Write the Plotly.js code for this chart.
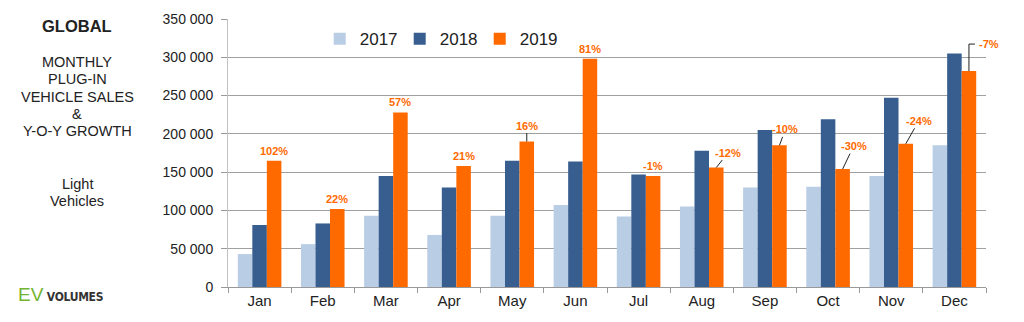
<!DOCTYPE html>
<html>
<head>
<meta charset="utf-8">
<script src="https://cdn.plot.ly/plotly-3.0.1.min.js"></script>
<style>html,body{margin:0;padding:0;background:#fff;}#chart{width:1024px;height:322px;}</style>
</head>
<body>
<div id="chart"></div>
<script>
const months = ['Jan','Feb','Mar','Apr','May','Jun','Jul','Aug','Sep','Oct','Nov','Dec'];
const sales2017 = [43000, 56000, 93000, 68000, 93000, 107000, 92000, 105000, 130000, 131000, 145000, 185000];
const sales2018 = [81000, 83000, 145000, 130000, 165000, 164000, 147000, 178000, 205000, 219000, 247000, 305000];
const sales2019 = [165000, 102000, 228000, 158000, 190000, 298000, 145000, 156000, 185000, 154000, 187000, 282000];
const growthLabels = ['102%','22%','57%','21%','16%','81%','-1%','-12%','-10%','-30%','-24%','-7%'];
const yTicks = [0, 50000, 100000, 150000, 200000, 250000, 300000, 350000];
const sideLines = ['MONTHLY','PLUG-IN','VEHICLE SALES','&amp;','Y-O-Y GROWTH'];
const subLines = ['Light','Vehicles'];

const bargap = 0.31;
const barOffset = (1 - bargap) / 3;
const orange = '#ff6a00';

// leader offsets (pixels) for labels that have a connector line; null = plain label
const leader = [null, null, null, null, [0,-16], null, null, [12,-15], [6,-16], [11,-23], [13,-23], 'elbow'];

const traces = [
  {type:'bar', name:'2017', x:months.map((m,i)=>i), y:sales2017, marker:{color:'#b9cde5'}},
  {type:'bar', name:'2018', x:months.map((m,i)=>i), y:sales2018, marker:{color:'#375e8f'}},
  {type:'bar', name:'2019', x:months.map((m,i)=>i), y:sales2019, marker:{color:orange}}
];

const annotations = [];
const shapes = [];
months.forEach((m, i) => {
  const base = {x: i + barOffset, y: sales2019[i], xref:'x', yref:'y', text: growthLabels[i],
    font:{family:'Liberation Sans, Arial, sans-serif', size:11, color:orange, weight:'bold'}};
  const L = leader[i];
  if (L === null) {
    annotations.push(Object.assign(base, {showarrow:false, yanchor:'bottom', yshift:2}));
  } else if (L === 'elbow') {
    annotations.push(Object.assign(base, {showarrow:false, xanchor:'left', yanchor:'middle', xshift:8, yshift:27}));
    shapes.push({type:'path', xref:'x', yref:'y', xsizemode:'pixel', ysizemode:'pixel',
      xanchor: i + barOffset, yanchor: sales2019[i], path:'M0,0 L0,27 L6,27',
      line:{color:'#222', width:1}});
  } else {
    annotations.push(Object.assign(base, {showarrow:true, arrowhead:0, arrowwidth:1, arrowcolor:'#222',
      ax:L[0], ay:L[1], standoff:0}));
  }
});

// left-side caption, positioned in paper coordinates
const plotTop = 19, plotH = 268, plotL = 228, plotW = 758;
const px2x = p => (p - plotL) / plotW;
const py2y = p => (plotTop + plotH - p) / plotH;
const textFont = {family:'Liberation Sans, Arial, sans-serif', color:'#222'};
annotations.push({xref:'paper', yref:'paper', x:px2x(77), y:py2y(26), text:'<b>GLOBAL</b>', showarrow:false,
   font:Object.assign({size:16.5}, textFont), xanchor:'center', yanchor:'middle'});
sideLines.forEach((t, k) => annotations.push({xref:'paper', yref:'paper', x:px2x(77), y:py2y(62 + k*17.3), text:t,
   showarrow:false, font:Object.assign({size:14.5}, textFont), xanchor:'center', yanchor:'middle'}));
subLines.forEach((t, k) => annotations.push({xref:'paper', yref:'paper', x:px2x(77), y:py2y(184 + k*17.3), text:t,
   showarrow:false, font:Object.assign({size:14.5}, textFont), xanchor:'center', yanchor:'middle'}));
annotations.push({xref:'paper', yref:'paper', x:px2x(16), y:py2y(294),
   text:'<span style="color:#72b530;font-size:19px;">EV</span><span style="font-family:\'DejaVu Sans Condensed\',\'Liberation Sans\';font-weight:bold;font-size:12px;color:#333;letter-spacing:-0.3px;"> VOLUMES</span>',
   showarrow:false, font:{family:'Liberation Sans, Arial', size:12, color:'#333'},
   xanchor:'left', yanchor:'middle'});

const layout = {
  width:1024, height:322,
  margin:{l:228, r:38, t:19, b:35},
  paper_bgcolor:'#fff', plot_bgcolor:'#fff',
  barmode:'group', bargap:bargap, bargroupgap:0,
  separators:'. ',
  font:{family:'Liberation Sans, Arial, sans-serif', color:'#222'},
  showlegend:true,
  legend:{orientation:'h', x:0.121, y:0.925, xanchor:'left', yanchor:'middle',
    font:{size:17, color:'#222'}, bgcolor:'rgba(0,0,0,0)', entrywidth:35, entrywidthmode:'pixels',
    itemclick:false, itemdoubleclick:false},
  xaxis:{type:'linear', tickmode:'array', tickvals:months.map((m,i)=>i), ticktext:months,
    range:[-0.5, 11.5], showgrid:false, zeroline:false, showline:true, linecolor:'#999', linewidth:1,
    ticks:'', tickfont:{size:15, color:'#222'}, fixedrange:true},
  yaxis:{range:[0,350000], tickmode:'array', tickvals:yTicks, tickformat:',d',
    showgrid:true, gridcolor:'#a0a0a0', gridwidth:1, zeroline:false, showline:true, linecolor:'#c0c0c0',
    ticks:'outside', ticklen:6, tickcolor:'#999', ticklabelstandoff:5, tickfont:{size:14, color:'#222'}, fixedrange:true},
  annotations:annotations,
  shapes:shapes
};

// x-axis boundary tick marks between categories
const boundaries = [];
for (let k = 0; k <= months.length; k++) boundaries.push(k - 0.5);
layout.xaxis2 = {overlaying:'x', range:[-0.5,11.5], tickmode:'array', tickvals:boundaries, ticktext:boundaries.map(()=>''),
  ticks:'outside', ticklen:5, tickcolor:'#999', showgrid:false, zeroline:false, showline:false, anchor:'y', side:'bottom', fixedrange:true};
traces.push({type:'scatter', x:[], y:[], xaxis:'x2', showlegend:false, hoverinfo:'skip'});

Plotly.newPlot('chart', traces, layout, {displayModeBar:false, staticPlot:true});
</script>
</body>
</html>
